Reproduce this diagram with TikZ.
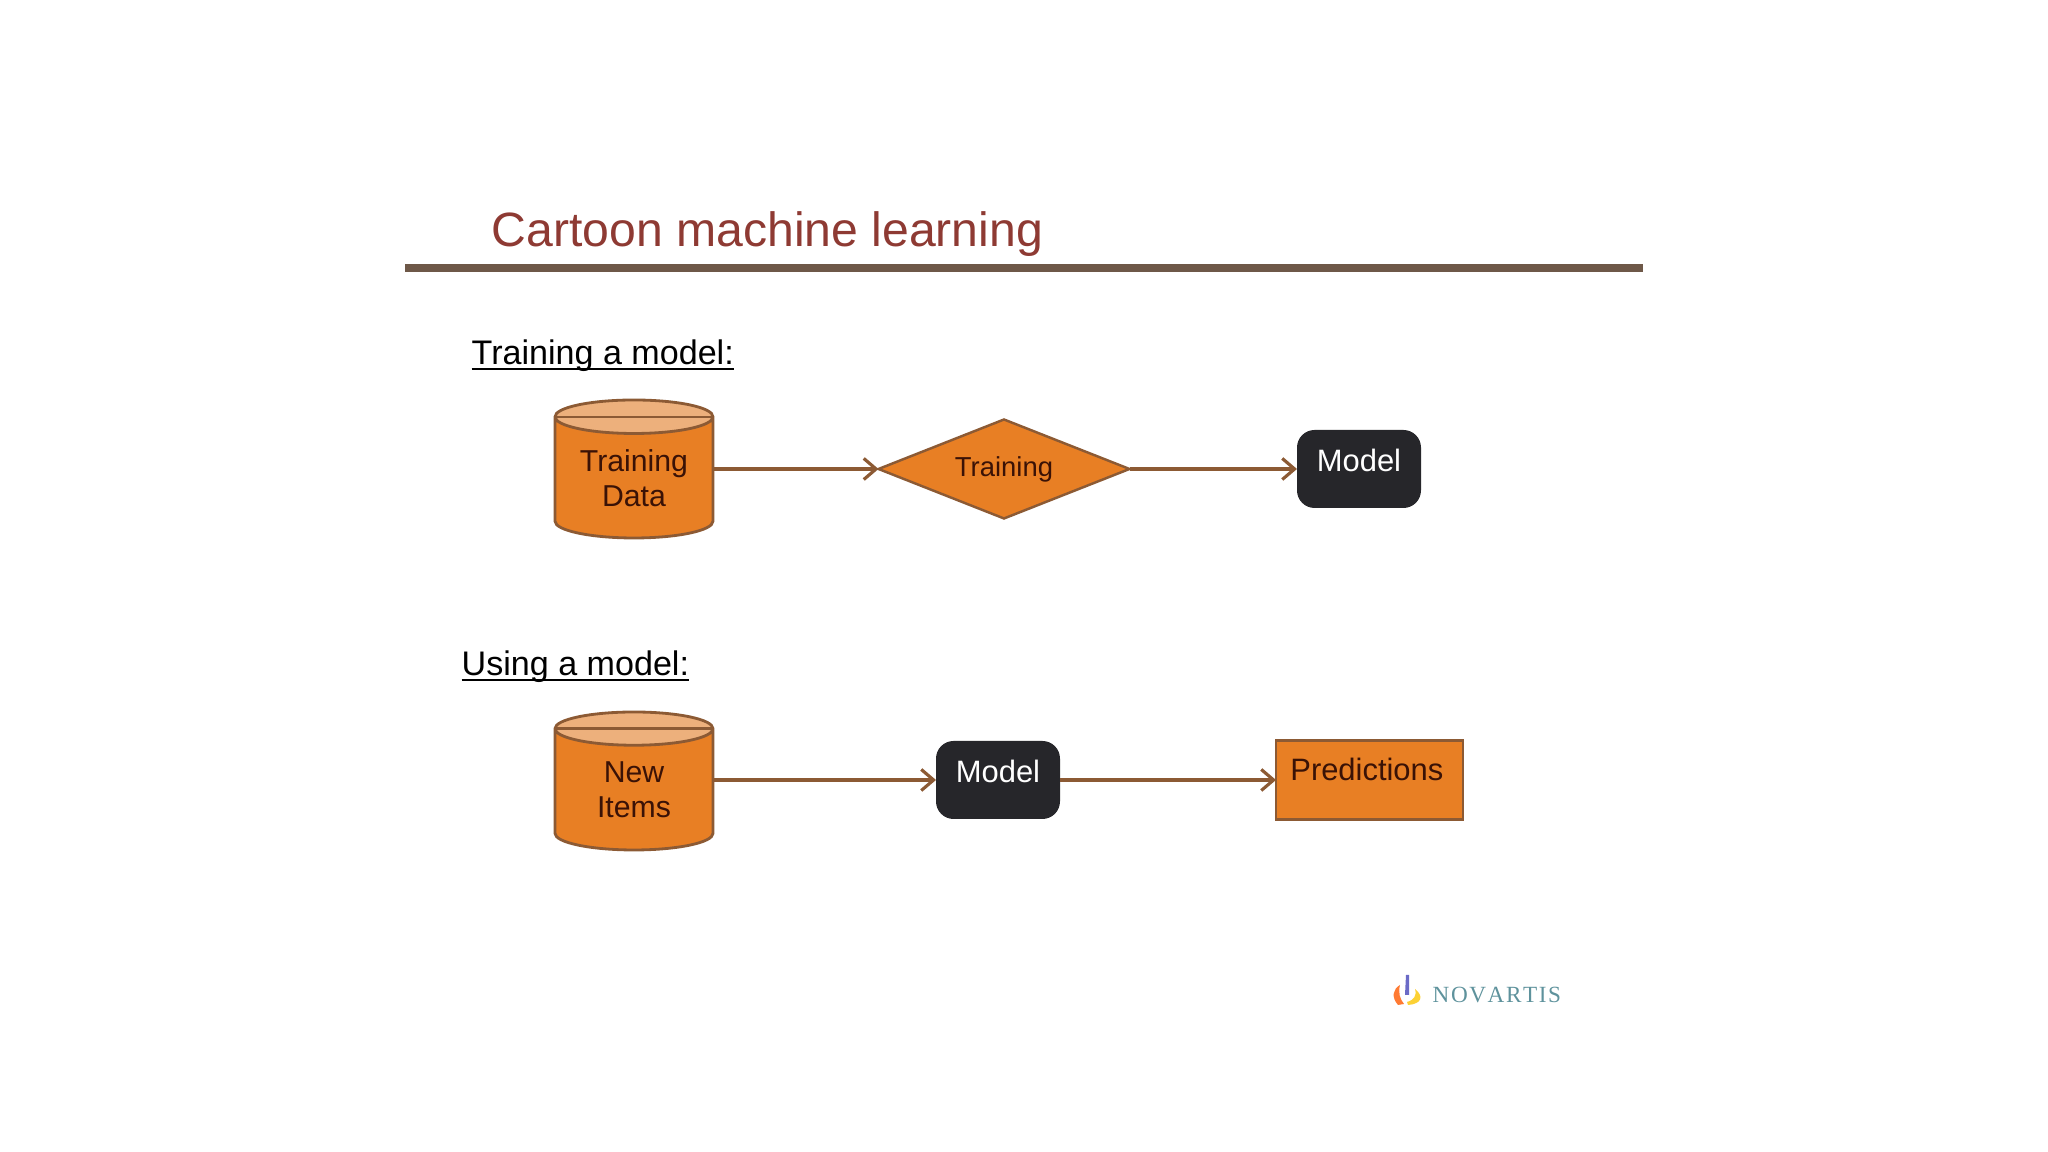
\documentclass[tikz,border=0pt]{standalone}
\usepackage{fontspec}
\setmainfont{Liberation Sans}
\newfontfamily\logofont{Liberation Serif}
\usepackage{tkz-graph}
\usetikzlibrary{shapes.geometric,arrows.meta}

\newcommand{\headline}[1]{\setbox0\hbox{#1}\rlap{\rule[-1.4pt]{\wd0}{0.5pt}}\box0}

\definecolor{boxorange}{HTML}{E87F24}
\definecolor{capOrange}{HTML}{EDB07C}
\definecolor{edgebrown}{HTML}{8C5A34}
\definecolor{rulebrown}{HTML}{6E5848}
\definecolor{titlered}{HTML}{8E3A33}
\definecolor{boxtext}{HTML}{3A1206}
\definecolor{modelblack}{HTML}{26262A}
\definecolor{logoteal}{HTML}{5E929C}

\tikzset{
	CylStyle/.style={shape=cylinder, shape border rotate=90, aspect=0.31, anchor=shape center,
		minimum height=1.38cm, minimum width=1.58cm, inner sep=0pt,
		draw=edgebrown, line width=0.8pt, cylinder uses custom fill,
		cylinder body fill=boxorange, cylinder end fill=capOrange,
		align=center, text=boxtext, font=\fontsize{8.6}{10}\selectfont},
	ModelStyle/.style={shape=rectangle, rounded corners=5pt, fill=modelblack,
		minimum width=1.24cm, minimum height=0.78cm, inner sep=0pt,
		text=white, font=\fontsize{8.8}{10}\selectfont},
	HeadStyle/.style={anchor=west, text=black, inner sep=0pt,
		font=\fontsize{9.7}{11}\selectfont}
}

\begin{document}
\begin{tikzpicture}
	\useasboundingbox (0,0) rectangle (20.48,11.52);
	\SetUpEdge[lw=1pt, color=edgebrown]
	\GraphInit[vstyle=Normal]
	\tikzset{VertexStyle/.style={CylStyle}}
	\Vertex[x=6.34,y=6.83,L={Training\\Data}]{traindata}
	\tikzset{VertexStyle/.style={CylStyle,aspect=0.45}}
	\Vertex[x=6.34,y=3.71,L={New\\Items}]{newitems}
	\tikzset{VertexStyle/.style={shape=diamond, aspect=2.53, draw=edgebrown, line width=0.7pt,
		fill=boxorange, minimum width=2.51cm, minimum height=0.99cm, inner sep=0pt,
		text=boxtext, font=\fontsize{7.8}{9}\selectfont}}
	\Vertex[x=10.04,y=6.83,L={\raisebox{-2.6pt}{Training}}]{training}
	\tikzset{VertexStyle/.style={ModelStyle}}
	\Vertex[x=13.59,y=6.83,L={\raisebox{4.8pt}{Model}}]{trainmodel}
	\Vertex[x=9.98,y=3.72,L={\raisebox{4.8pt}{Model}}]{usemodel}
	\tikzset{VertexStyle/.style={shape=rectangle, draw=edgebrown, line width=0.7pt,
		fill=boxorange, minimum width=1.87cm, minimum height=0.79cm, inner sep=0pt,
		text=boxtext, font=\fontsize{8.8}{10}\selectfont}}
	\Vertex[x=13.695,y=3.72,L={\raisebox{5.9pt}{Predictions\kern1.5pt}}]{predictions}
	\tikzset{EdgeStyle/.style={-{Straight Barb[length=3.5pt,width=6pt]}, color=edgebrown, line width=0.9pt}}
	\draw[EdgeStyle] (traindata.east |- training) -- (training);
	\Edge(training)(trainmodel)
	\draw[EdgeStyle] (newitems.east |- usemodel) -- (usemodel);
	\Edge(usemodel)(predictions)
	\draw[edgebrown, line width=0.7pt] (traindata.before top) -- (traindata.after top);
	\draw[edgebrown, line width=0.7pt] (newitems.before top) -- (newitems.after top);
	% headings
	\node[anchor=base west, inner sep=0pt, text=titlered, font=\fontsize{13.7}{16}\selectfont] (title) at (4.91,9.05) {Cartoon machine learning};
	\coordinate (ruleleft) at (4.05,8.84);
	\coordinate (ruleright) at (16.43,8.84);
	\draw[rulebrown, line width=2.1pt] (ruleleft) -- (ruleright);
	\node[HeadStyle] (trainhead) at (4.71,7.96) {\headline{Training a model:}};
	\node[HeadStyle] (usehead) at (4.61,4.85) {\headline{Using a model:}};
	% logo
	\node[anchor=base west, inner sep=0pt, text=logoteal, font=\logofont\fontsize{6.6}{8}\selectfont] (novartis) at (14.32,1.49) {N\kern0.45pt O\kern0.45pt V\kern0.45pt A\kern0.45pt R\kern0.45pt T\kern0.45pt I\kern0.45pt S};
	\fill[orange!70!red!80] (13.98,1.47) .. controls (13.91,1.55) and (13.93,1.63) .. (14.00,1.67) .. controls (13.98,1.59) and (14.00,1.53) .. (14.04,1.48) -- cycle;
	\fill[blue!45!gray!80] (14.05,1.57) -- (14.06,1.77) -- (14.09,1.77) -- (14.09,1.57) -- cycle;
	\fill[yellow!60!orange!80] (14.08,1.47) .. controls (14.22,1.48) and (14.24,1.56) .. (14.15,1.63) .. controls (14.17,1.56) and (14.14,1.52) .. (14.07,1.50) -- cycle;
\end{tikzpicture}
\end{document}
